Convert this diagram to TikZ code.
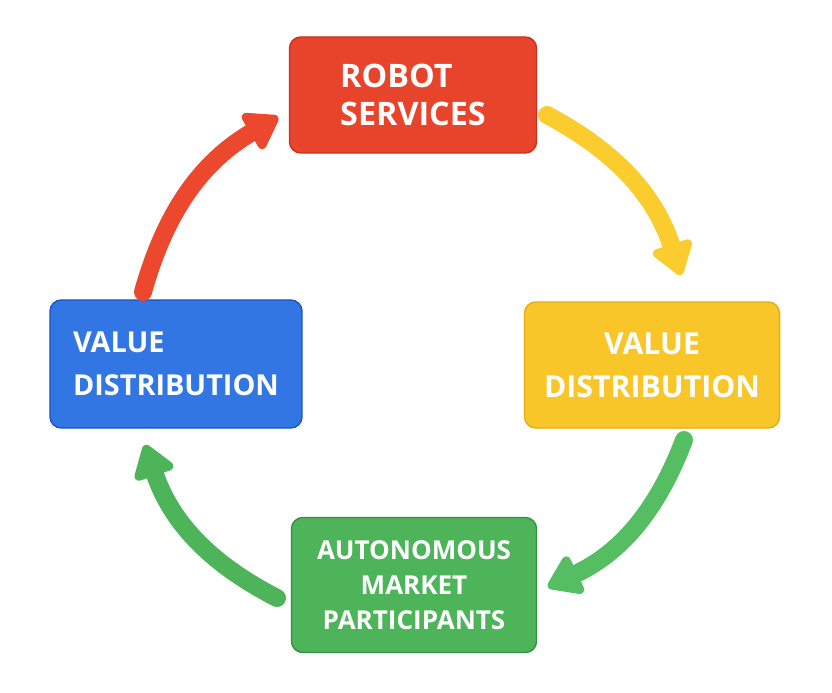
\documentclass[tikz,border=0pt]{standalone}
\usepackage{fontspec}
\setmainfont{Open Sans}
\usetikzlibrary{arrows.meta,positioning}
\definecolor{robotred}{RGB}{232,68,44}
\definecolor{robotredline}{RGB}{200,50,30}
\definecolor{valueblue}{RGB}{50,118,228}
\definecolor{valuebline}{RGB}{30,85,190}
\definecolor{valueyellow}{RGB}{248,198,40}
\definecolor{valueyline}{RGB}{228,172,22}
\definecolor{marketgreen}{RGB}{78,180,90}
\definecolor{marketgline}{RGB}{50,145,65}
\definecolor{arrowred}{RGB}{236,72,45}
\definecolor{arrowyellow}{RGB}{250,204,45}
\definecolor{arrowgreen}{RGB}{86,190,98}
\begin{document}
\begin{tikzpicture}
[x=0.025cm,y=0.025cm,
stage/.style={shape=rectangle,rounded corners=8pt,line width=1pt,inner sep=0pt,
  text=white,font=\bfseries\fontsize{20.5}{30.5}\selectfont},
cycleedge/.style={line width=0.45cm,line cap=round,
  -{Triangle[width=1.15cm,length=0.9cm,round]}}]
\useasboundingbox (0,0) rectangle (832,692);
%%
\node (rs) [stage,fill=robotred,draw=robotredline,align=left,
  font=\bfseries\fontsize{23}{27}\selectfont,
  minimum width=6.175cm,minimum height=2.9cm] at (413,597) {ROBOT\\SERVICES};
\node (vl) [stage,fill=valueblue,draw=valuebline,align=left,
  minimum width=6.3cm,minimum height=3.2cm] at (176,328) {VALUE\\DISTRIBUTION};
\node (vr) [stage,fill=valueyellow,draw=valueyline,align=center,
  font=\bfseries\fontsize{21.5}{30.5}\selectfont,
  minimum width=6.375cm,minimum height=3.15cm] at (652,327) {VALUE\\DISTRIBUTION};
\node (amp) [stage,fill=marketgreen,draw=marketgline,align=center,
  font=\bfseries\fontsize{18.5}{25}\selectfont,
  minimum width=6.125cm,minimum height=3.375cm] at (414,107) {AUTONOMOUS\\MARKET\\PARTICIPANTS};
%% arrow ends
\coordinate (a1) at (143,400);
\coordinate (a2) at (278,575);
\coordinate (a3) at (547,577);
\coordinate (a4) at (681,417);
\coordinate (a5) at (684,252);
\coordinate (a6) at (548,105);
\coordinate (a7) at (277,94);
\coordinate (a8) at (145,247);
\draw[cycleedge,arrowred] (a1) to[bend left=22] (a2);
\draw[cycleedge,arrowyellow] (a3) to[bend left=22] (a4);
\draw[cycleedge,arrowgreen] (a5) to[bend left=22] (a6);
\draw[cycleedge,marketgreen] (a7) to[bend left=22] (a8);
\end{tikzpicture}
\end{document}
